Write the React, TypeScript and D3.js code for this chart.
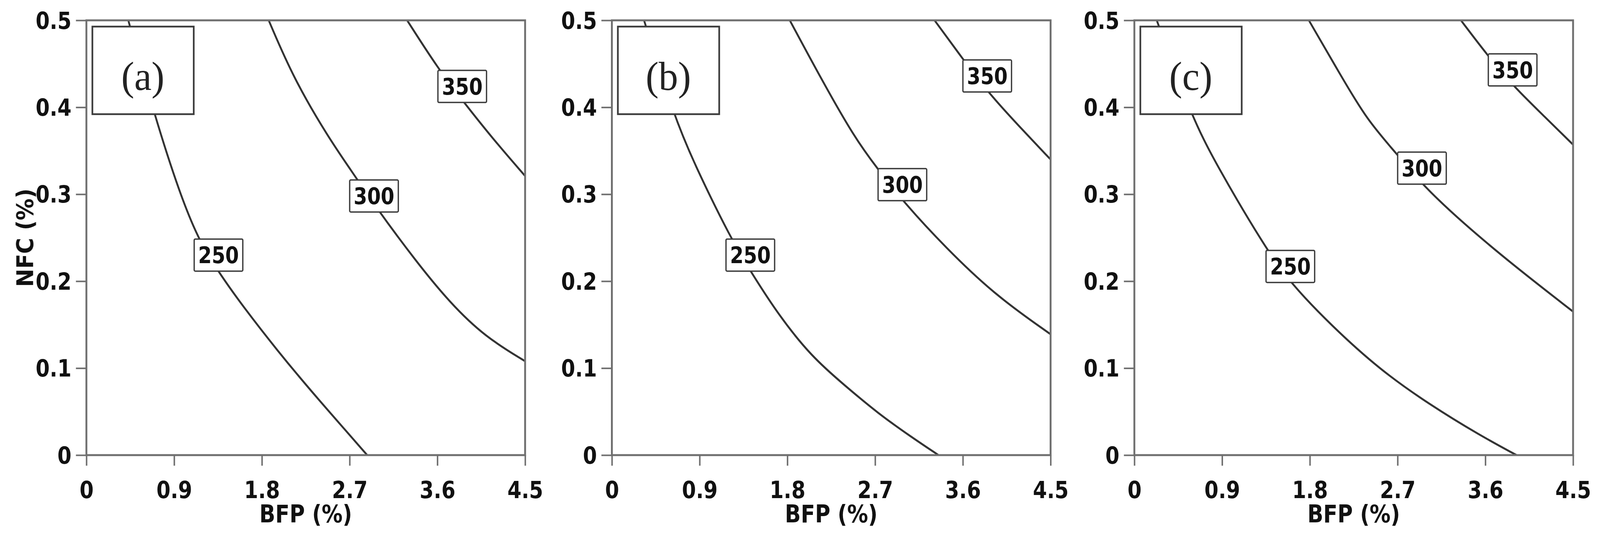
import { useEffect, useRef } from "react";
import * as d3 from "d3";

// panel tags
const panels = ["(a)", "(b)", "(c)"];

const bfpTicks = [0, 0.9, 1.8, 2.7, 3.6, 4.5];
const nfcTicks = [0, 0.1, 0.2, 0.3, 0.4, 0.5];
const levels = [250, 300, 350];

// contour lines, [BFP, NFC]
const contourA250: [number, number][] = [[0.43, 0.5], [0.7, 0.39], [0.96, 0.3], [1.16, 0.245], [1.39, 0.205], [1.6, 0.172], [1.96, 0.12], [2.31, 0.073], [2.67, 0.027], [2.88, 0]];
const contourA300: [number, number][] = [[1.87, 0.5], [2.13, 0.432], [2.49, 0.364], [2.7, 0.33], [2.97, 0.285], [3.38, 0.223], [3.73, 0.175], [4.09, 0.136], [4.5, 0.108]];
const contourA350: [number, number][] = [[3.29, 0.5], [3.61, 0.444], [3.87, 0.406], [4.16, 0.365], [4.5, 0.321]];

const contourB250: [number, number][] = [[0.33, 0.5], [0.64, 0.389], [0.85, 0.334], [1.22, 0.249], [1.43, 0.21], [1.71, 0.161], [2.05, 0.113], [2.39, 0.08], [2.73, 0.048], [3.07, 0.021], [3.35, 0]];
const contourB300: [number, number][] = [[1.825, 0.5], [2.15, 0.432], [2.49, 0.365], [2.72, 0.33], [3.0, 0.29], [3.42, 0.239], [3.93, 0.184], [4.5, 0.139]];
const contourB350: [number, number][] = [[3.31, 0.5], [3.61, 0.454], [3.86, 0.417], [4.17, 0.379], [4.5, 0.34]];

const contourC250: [number, number][] = [[0.23, 0.5], [0.58, 0.391], [0.84, 0.334], [1.34, 0.239], [1.6, 0.198], [2.02, 0.149], [2.52, 0.098], [3.03, 0.058], [3.54, 0.023], [3.92, 0]];
const contourC300: [number, number][] = [[1.79, 0.5], [2.12, 0.436], [2.39, 0.385], [2.68, 0.348], [2.96, 0.31], [3.37, 0.267], [3.87, 0.22], [4.5, 0.165]];
const contourC350: [number, number][] = [[3.35, 0.5], [3.62, 0.46], [3.89, 0.424], [4.21, 0.389], [4.5, 0.357]];

// where the level labels sit, [BFP, NFC]
const labelsA: [number, number][] = [[1.355, 0.23], [2.95, 0.298], [3.855, 0.424]];
const labelsB: [number, number][] = [[1.42, 0.23], [2.98, 0.311], [3.85, 0.436]];
const labelsC: [number, number][] = [[1.6, 0.217], [2.95, 0.33], [3.88, 0.443]];

const contours = [
  [contourA250, contourA300, contourA350],
  [contourB250, contourB300, contourB350],
  [contourC250, contourC300, contourC350],
];
const labelPos = [labelsA, labelsB, labelsC];

const W = 4278;
const H = 1376;
const panelLeft = [231, 1636, 3033];
const panelW = 1173;
const top = 52;
const bottom = 1164;

const sans = "'DejaVu Sans Condensed', 'Noto Sans', 'DejaVu Sans', sans-serif";
const axisColor = "#6f6f6f";
const lineColor = "#333";

export default function App() {
  const svgRef = useRef<SVGSVGElement>(null);

  useEffect(() => {
    if (!svgRef.current) return;
    const svg = d3.select(svgRef.current);
    svg.selectAll("*").remove();

    svg.append("rect").attr("width", W).attr("height", H).attr("fill", "#fff");

    panels.forEach((tag, p) => {
      const left = panelLeft[p];
      const x = d3.scaleLinear().domain([0, 4.5]).range([left, left + panelW]);
      const y = d3.scaleLinear().domain([0, 0.5]).range([bottom, top]);

      const g = svg.append("g");

      const clipId = `clip-${p}`;
      g.append("clipPath")
        .attr("id", clipId)
        .append("rect")
        .attr("x", left)
        .attr("y", top)
        .attr("width", panelW)
        .attr("height", bottom - top);

      // contour lines
      const line = d3
        .line<[number, number]>()
        .x(d => x(d[0]))
        .y(d => y(d[1]))
        .curve(d3.curveBasis);

      g.append("g")
        .attr("clip-path", `url(#${clipId})`)
        .selectAll("path")
        .data(contours[p])
        .enter()
        .append("path")
        .attr("d", d => line(d) || "")
        .attr("fill", "none")
        .attr("stroke", lineColor)
        .attr("stroke-width", 5);

      // level labels
      const lab = g
        .selectAll(".lvl")
        .data(levels)
        .enter()
        .append("g")
        .attr("class", "lvl")
        .attr("transform", (d, i) => `translate(${x(labelPos[p][i][0])},${y(labelPos[p][i][1])})`);

      lab.append("rect")
        .attr("x", -65)
        .attr("y", -41)
        .attr("width", 130)
        .attr("height", 82)
        .attr("rx", 3)
        .attr("fill", "#fff")
        .attr("stroke", "#3c3c3c")
        .attr("stroke-width", 3.5);

      lab.append("text")
        .attr("text-anchor", "middle")
        .attr("y", 21)
        .attr("font-family", sans)
        .attr("font-weight", "bold")
        .attr("font-size", 58)
        .attr("fill", "#111")
        .text(d => String(d));

      // inset tag box
      g.append("rect")
        .attr("x", left + 16)
        .attr("y", top + 16)
        .attr("width", 271)
        .attr("height", 224)
        .attr("fill", "#fff")
        .attr("stroke", "#3c3c3c")
        .attr("stroke-width", 4.5);

      g.append("text")
        .attr("x", left + 16 + 135)
        .attr("y", top + 178)
        .attr("text-anchor", "middle")
        .attr("font-family", "'Liberation Serif', 'DejaVu Serif', serif")
        .attr("font-size", 104)
        .attr("fill", "#222")
        .text(tag);

      // frame
      g.append("rect")
        .attr("x", left)
        .attr("y", top)
        .attr("width", panelW)
        .attr("height", bottom - top)
        .attr("fill", "none")
        .attr("stroke", axisColor)
        .attr("stroke-width", 5);

      // x axis
      const xAxis = g
        .append("g")
        .attr("transform", `translate(0,${bottom})`)
        .call(d3.axisBottom(x).tickValues(bfpTicks).tickSize(27).tickPadding(40).tickFormat(d => String(d)));
      xAxis.select(".domain").remove();
      xAxis.selectAll("line").attr("stroke", axisColor).attr("stroke-width", 4);
      xAxis.selectAll("text")
        .attr("font-family", sans)
        .attr("font-weight", "bold")
        .attr("font-size", 60)
        .attr("fill", "#111")
        .attr("dy", "0.71em");

      // y axis
      const yAxis = g
        .append("g")
        .attr("transform", `translate(${left},0)`)
        .call(d3.axisLeft(y).tickValues(nfcTicks).tickSize(28).tickPadding(12).tickFormat(d => String(d)));
      yAxis.select(".domain").remove();
      yAxis.selectAll("line").attr("stroke", axisColor).attr("stroke-width", 4);
      yAxis.selectAll("text")
        .attr("font-family", sans)
        .attr("font-weight", "bold")
        .attr("font-size", 60)
        .attr("fill", "#111")
        .attr("dy", "0.35em");

      // x title
      g.append("text")
        .attr("x", left + panelW / 2)
        .attr("y", 1336)
        .attr("text-anchor", "middle")
        .attr("font-family", sans)
        .attr("font-weight", "bold")
        .attr("font-size", 62)
        .attr("fill", "#111")
        .text("BFP (%)");

      if (p === 0) {
        g.append("text")
          .attr("transform", `translate(88,${(top + bottom) / 2}) rotate(-90)`)
          .attr("text-anchor", "middle")
          .attr("font-family", sans)
          .attr("font-weight", "bold")
          .attr("font-size", 62)
          .attr("fill", "#111")
          .text("NFC (%)");
      }
    });
  }, []);

  return (
    <svg
      ref={svgRef}
      viewBox={`0 0 ${W} ${H}`}
      preserveAspectRatio="none"
      style={{ position: "fixed", left: 0, top: 0, width: "100vw", height: "100vh", display: "block" }}
    ></svg>
  );
}
